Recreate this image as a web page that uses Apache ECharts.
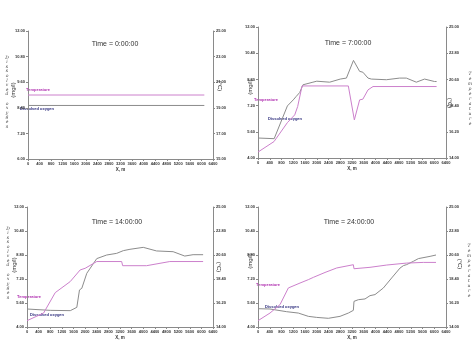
<!DOCTYPE html>
<html><head><meta charset="utf-8">
<script src="https://cdn.jsdelivr.net/npm/echarts@6/dist/echarts.min.js"></script>
<style>html,body{margin:0;padding:0;background:#fff}#c{width:474px;height:347px}</style>
</head><body><div id="c"></div>
<script>
// ---- data ----
const titles = ['Time = 0:00:00', 'Time = 7:00:00', 'Time = 14:00:00', 'Time = 24:00:00'];
// panel 1 (0:00)
const doX1 = [0, 6100];
const do1 = [8.51, 8.51];
const tX1 = [0, 6100];
const t1 = [20.0, 20.0];
// panel 2 (7:00)
const doX2 = [0, 550, 1000, 1200, 1300, 1420, 1530, 1870, 2000, 2440, 2800, 3010, 3250, 3460, 3570, 3745, 3860, 4370, 4820, 5050, 5390, 5670, 6010, 6080];
const do2 = [5.22, 5.18, 7.18, 7.55, 7.76, 8.0, 8.47, 8.63, 8.69, 8.63, 8.82, 8.88, 9.96, 9.29, 9.24, 8.88, 8.82, 8.78, 8.88, 8.88, 8.63, 8.82, 8.67, 8.67];
const tX2 = [0, 545, 1000, 1250, 1350, 1500, 3075, 3280, 3460, 3570, 3745, 3915, 6080];
const t2 = [14.5, 15.38, 16.97, 17.62, 18.32, 20.05, 20.05, 17.2, 18.88, 18.94, 19.72, 20.0, 20.0];
// panel 3 (14:00)
const doX3 = [0, 800, 1490, 1714, 1806, 1886, 2057, 2400, 2743, 3086, 3314, 3543, 4000, 4457, 5029, 5429, 5714, 6060];
const do3 = [5.2, 5.11, 5.09, 5.31, 6.47, 6.58, 7.58, 8.56, 8.8, 8.91, 9.09, 9.18, 9.31, 9.07, 9.02, 8.73, 8.82, 8.82];
const tX3 = [0, 571, 971, 1486, 1829, 2000, 2400, 3257, 3291, 4114, 4914, 6060];
const t3 = [14.58, 15.28, 17.15, 18.16, 19.23, 19.38, 20.0, 20.0, 19.62, 19.62, 20.0, 20.0];
// panel 4 (24:00)
const doX4 = [0, 408, 976, 1373, 1714, 1998, 2395, 2793, 3076, 3246, 3268, 3416, 3643, 3813, 3983, 4267, 4551, 4835, 4949, 5062, 5289, 5460, 5857, 6060];
const do4 = [5.22, 5.2, 5.02, 4.93, 4.71, 4.64, 4.58, 4.71, 4.93, 5.11, 5.71, 5.82, 5.87, 6.09, 6.16, 6.6, 7.27, 7.93, 8.09, 8.16, 8.38, 8.56, 8.71, 8.8];
const tX4 = [0, 408, 749, 1033, 1430, 1714, 1884, 2281, 2679, 3246, 3268, 3813, 4381, 5062, 5630, 6060];
const t4 = [14.58, 15.28, 16.05, 17.58, 18.03, 18.34, 18.55, 19.0, 19.41, 19.71, 19.34, 19.47, 19.68, 19.86, 19.92, 19.92];
// axis ranges
const leftMin = [6, 4, 4, 4], leftMax = [12, 12, 12, 12], leftStep = [1.2, 1.6, 1.6, 1.6];
const rightMin = [15, 14, 14, 14], rightMax = [25, 25, 25, 25], rightStep = [2, 2.2, 2.2, 2.2];
const xMin = 0, xMax = 6400, xStep = 400;

// ---- layout ----
const grids = [
  {left: 28, top: 31, width: 185, height: 128},
  {left: 258, top: 27, width: 188, height: 131},
  {left: 27, top: 207, width: 186, height: 120},
  {left: 258, top: 207, width: 188, height: 120}
];
const FONT = 'Liberation Sans, Arial, sans-serif';
const axisColor = '#8a8a8a';
const DOcol = '#8c8c8c', Tcol = '#cc80cc';

const pair = (xs, ys) => xs.map((x, i) => [x, ys[i]]);
const doSets = [pair(doX1, do1), pair(doX2, do2), pair(doX3, do3), pair(doX4, do4)];
const tSets = [pair(tX1, t1), pair(tX2, t2), pair(tX3, t3), pair(tX4, t4)];

const xAxes = [], yAxes = [], series = [];
grids.forEach((g, i) => {
  xAxes.push({
    type: 'value', gridIndex: i, min: xMin, max: xMax, interval: xStep,
    name: 'X, m', nameLocation: 'middle', nameGap: 8,
    nameTextStyle: {fontSize: 4.5, fontWeight: 'bold', color: '#333', fontFamily: FONT},
    axisLine: {lineStyle: {color: axisColor, width: 1}},
    axisTick: {show: true, length: 2, lineStyle: {color: axisColor}},
    minorTick: {show: true, splitNumber: 2, length: 1, lineStyle: {color: axisColor}},
    axisLabel: {fontSize: 4, fontWeight: 'bold', color: '#333', margin: 3, fontFamily: FONT, formatter: v => String(v), hideOverlap: false},
    splitLine: {show: false}
  });
  yAxes.push({
    type: 'value', gridIndex: i, position: 'left', min: leftMin[i], max: leftMax[i], interval: leftStep[i],
    axisLine: {show: true, lineStyle: {color: axisColor, width: 1}},
    axisTick: {show: true, length: 2, lineStyle: {color: axisColor}},
    axisLabel: {fontSize: 4, fontWeight: 'bold', color: '#333', margin: 3, fontFamily: FONT, formatter: v => v.toFixed(2)},
    splitLine: {show: false}
  });
  yAxes.push({
    type: 'value', gridIndex: i, position: 'right', min: rightMin[i], max: rightMax[i], interval: rightStep[i],
    axisLine: {show: true, lineStyle: {color: axisColor, width: 1}},
    axisTick: {show: true, length: 2, lineStyle: {color: axisColor}},
    axisLabel: {fontSize: 4, fontWeight: 'bold', color: '#333', margin: 3, fontFamily: FONT, formatter: v => v.toFixed(2)},
    splitLine: {show: false}
  });
  series.push({
    type: 'line', name: 'Dissolved oxygen', xAxisIndex: i, yAxisIndex: 2 * i, data: doSets[i],
    showSymbol: false, symbol: 'none', lineStyle: {color: DOcol, width: 1}, animation: false, silent: true
  });
  series.push({
    type: 'line', name: 'Temperature', xAxisIndex: i, yAxisIndex: 2 * i + 1, data: tSets[i],
    showSymbol: false, symbol: 'none', lineStyle: {color: Tcol, width: 1}, animation: false, silent: true
  });
});

function txt(x, y, text, style, extra) {
  return Object.assign({
    type: 'text', x: x, y: y, silent: true,
    style: Object.assign({text: text, fontSize: 4, fontFamily: FONT, fill: '#333', align: 'center', verticalAlign: 'middle'}, style || {})
  }, extra || {});
}
const stack = s => s.split('').join('\n');
const titlePos = [[115, 44], [348, 43], [117, 222], [349, 222]];
const tempLab = [[38, 90], [266, 100], [29, 297], [268, 285]];
const doLab = [[37, 109], [285, 119], [47, 315], [282, 307]];
const graphics = [];
titles.forEach((t, i) => {
  graphics.push(txt(titlePos[i][0], titlePos[i][1], t, {fontSize: 7, fill: '#333'}));
  graphics.push(txt(tempLab[i][0], tempLab[i][1], 'Temperature', {fontWeight: 'bold', fill: '#b02fb0'}));
  graphics.push(txt(doLab[i][0], doLab[i][1], 'Dissolved oxygen', {fontWeight: 'bold', fill: '#2c2c7c'}));
});
// axis titles
const vStyle = {fontSize: 4.5, fontStyle: 'italic', lineHeight: 4.6, fontFamily: 'DejaVu Serif, serif', fill: '#444'};
graphics.push(txt(7, 92, stack('Dissolved oxygen'), vStyle));
graphics.push(txt(8, 263, stack('Dissolved oxygen'), vStyle));
graphics.push(txt(470, 99, stack('Temperature'), Object.assign({}, vStyle, {lineHeight: 5})));
graphics.push(txt(469, 271, stack('Temperature'), Object.assign({}, vStyle, {lineHeight: 5})));
const mgPos = [[13, 90], [250, 87], [14, 265], [250, 261]];
const cPos = [[220, 86], [450, 103], [219, 267], [460, 264]];
mgPos.forEach(p => graphics.push(txt(p[0], p[1], '(mg/l)', {fontSize: 6, fill: '#333'}, {rotation: Math.PI / 2})));
cPos.forEach(p => graphics.push(txt(p[0], p[1], '(°C)', {fontSize: 6, fill: '#333'}, {rotation: -Math.PI / 2})));

const chart = echarts.init(document.getElementById('c'), null, {renderer: 'canvas'});
chart.setOption({
  backgroundColor: '#fff',
  animation: false,
  grid: grids,
  xAxis: xAxes,
  yAxis: yAxes,
  series: series,
  graphic: graphics
});
</script></body></html>
